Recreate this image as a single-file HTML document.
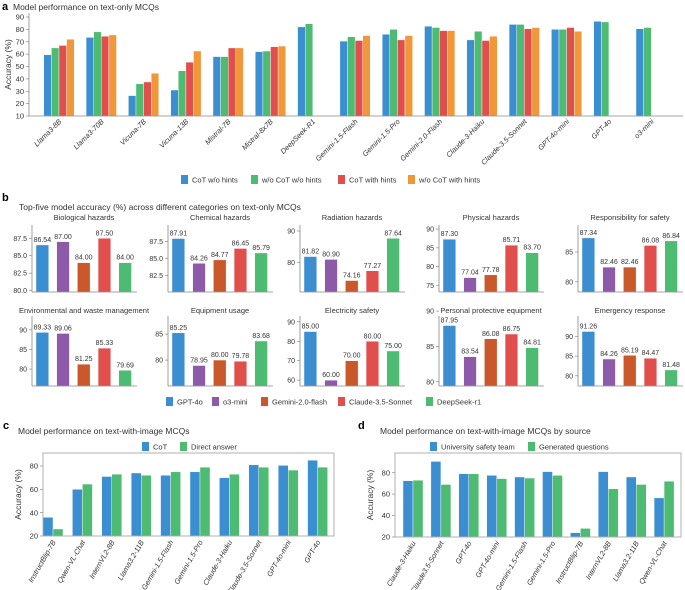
<!DOCTYPE html>
<html><head><meta charset="utf-8"><style>
body{margin:0;background:#fff;}
svg{display:block;font-family:"Liberation Sans",sans-serif;}
</style></head><body>
<svg id="fig" width="685" height="590" viewBox="0 0 685 590" xmlns="http://www.w3.org/2000/svg"></svg>
<script>
// ---------- Panel a data ----------
const aCategories = ["Llama3-8B","Llama3-70B","Vicuna-7B","Vicuna-13B","Mistral-7B","Mistral-8x7B","DeepSeek-R1","Gemini-1.5-Flash","Gemini-1.5-Pro","Gemini-2.0-Flash","Claude-3-Haiku","Claude-3.5-Sonnet","GPT-4o-mini","GPT-4o","o3-mini"];
const aCotNoHints = [59.5,73.5,26.5,31,58,62,82,70.5,76,82.5,71.5,84,80,86.5,80.5];
const aNoCotNoHints = [65,78,36,46.5,58,62.5,84.5,74,80,81.5,78.5,84,80,86,81.5];
const aCotHints = [67,74.5,37.5,53.5,65,66,null,71,71.5,79,71,80.5,81.5,null,null];
const aNoCotHints = [72,75.5,44.5,62.5,65,66.5,null,75,75,79,74.5,81.5,78.5,null,null];
const aSeriesNames = ["CoT w/o hints","w/o CoT w/o hints","CoT with hints","w/o CoT with hints"];
const aTicks = [10,20,30,40,50,60,70,80,90];

// ---------- Panel b data ----------
const bTitles = ["Biological hazards","Chemical hazards","Radiation hazards","Physical hazards","Responsibility for safety","Environmental and waste management","Equipment usage","Electricity safety","Personal protective equipment","Emergency response"];
const bGPT4o = [86.54,87.91,81.82,87.30,87.34,89.33,85.25,85.00,87.95,91.26];
const bO3mini = [87.00,84.26,80.90,77.04,82.46,89.06,78.95,60.00,83.54,84.26];
const bGemini2 = [84.00,84.77,74.16,77.78,82.46,81.25,80.00,70.00,86.08,85.19];
const bClaude35 = [87.50,86.45,77.27,85.71,86.08,85.33,79.78,80.00,86.75,84.47];
const bDeepSeek = [84.00,85.79,87.64,83.70,86.84,79.69,83.68,75.00,84.81,81.48];
const bModels = ["GPT-4o","o3-mini","Gemini-2.0-flash","Claude-3.5-Sonnet","DeepSeek-r1"];
const bYMin = [79.8,80.05,70.5,73.2,78.3,75.7,75.0,57,79.4,77.4];
const bYMax = [89.4,89.9,91.9,91.1,89.5,93.5,88.5,93,89.3,95.2];
const bTicks = [[80,82.5,85,87.5],[82.5,85,87.5],[80,90],[75,80,85,90],[80,85],[80,85,90],[80,85],[60,70,80,90],[80,85,90],[80,85,90]];

// ---------- Panel c data ----------
const cCategories = ["InstructBlip-7B","Qwen-VL-Chat","InternVL2-8B","Llama3.2-11B","Gemini-1.5-Flash","Gemini-1.5-Pro","Claude-3-Haiku","Claude-3.5-Sonnet","GPT-4o-mini","GPT-4o"];
const cCoT = [36,60,71,74,72,75,70,81,80.5,85];
const cDirect = [26,64.5,73,72,75,79,73,79,76.5,79];
const cTicks = [20,40,60,80];

// ---------- Panel d data ----------
const dCategories = ["Claude-3-Haiku","Claude3.5-Sonnet","GPT-4o","GPT-4o-mini","Gemini-1.5-Flash","Gemini-1.5-Pro","InstructBlip-7B","InternVL2-8B","Llama3.2-11B","Qwen-VL-Chat"];
const dUniversity = [72.5,90.5,79,77.5,76,81,24,81,76,56.5];
const dGenerated = [73,69,79,74.5,75,77.5,28,65,69,72];
const dTicks = [20,40,60,80];

const NS="http://www.w3.org/2000/svg";
const svg=document.getElementById('fig');
const C={blue:"#3b8fd0",green:"#4dbb72",red:"#e04f4b",orange:"#f0973a",purple:"#8c5aa8",dorange:"#c9582b",axis:"#888",text:"#333"};
function el(tag,attrs,parent){const e=document.createElementNS(NS,tag);for(const k in attrs)e.setAttribute(k,attrs[k]);(parent||svg).appendChild(e);return e;}
function txt(s,attrs,parent){const t=el('text',attrs,parent);t.textContent=s;return t;}
function lin(d0,d1,r0,r1){return v=>r0+(v-d0)*(r1-r0)/(d1-d0);}

// ===== Panel a =====
{
const g=el('g',{});


const l=txt('a',{x:2,y:10,'font-size':11,'font-weight':'bold',fill:'#000'},g);

const t=txt('Model performance on text-only MCQs',{x:13,y:10,'font-size':8.5,fill:C.text},g);

const L=29,R=683,T=13,B=116;
const y=lin(10,90,116,17);
const x=i=>59+42.3*i;
const bw=7.6;
const series=[aCotNoHints,aNoCotNoHints,aCotHints,aNoCotHints];
const cols=[C.blue,C.green,C.red,C.orange];
const yl=txt('Accuracy (%)',{x:0,y:0,'font-size':8.5,fill:C.text,'text-anchor':'middle',transform:`translate(11,${(T+B)/2}) rotate(-90)`},g);

aTicks.forEach(v=>{
  el('line',{x1:L-3,x2:L,y1:y(v),y2:y(v),stroke:C.axis,'stroke-width':0.7},g);
  const tk=txt(String(v),{x:L-5,y:y(v)+2.6,'font-size':7.5,fill:C.text,'text-anchor':'end'},g);
  
});
series.forEach((s,si)=>{
  s.forEach((v,i)=>{
    if(v==null)return;
    const r=el('rect',{x:x(i)+(si-2)*bw,y:y(v),width:bw,height:y(10)-y(v),fill:cols[si],stroke:'#fff','stroke-width':0.4},g);
    
    
  });
});
el('line',{x1:L,x2:L,y1:T,y2:B,stroke:C.axis,'stroke-width':0.8},g);
el('line',{x1:L,x2:R,y1:B,y2:B,stroke:C.axis,'stroke-width':0.8},g);
aCategories.forEach((c,i)=>{
  const tl=txt(c,{x:0,y:0,'font-size':7.3,fill:C.text,'text-anchor':'end','font-style':'italic',transform:`translate(${x(i)+3},${B+6}) rotate(-45)`},g);
  
});
const lx=[181,251,338,408];
aSeriesNames.forEach((n,i)=>{
  const sq=el('rect',{x:lx[i],y:175,width:7,height:9,fill:cols[i]},g);
  
  const lt=txt(n,{x:lx[i]+11,y:182.5,'font-size':7.5,fill:C.text},g);
  
});
}

// ===== Panel b =====
{
const g=el('g',{});


const l=txt('b',{x:2,y:201,'font-size':11,'font-weight':'bold',fill:'#000'},g);

const t=txt('Top-five model accuracy (%) across different categories on text-only MCQs',{x:19,y:210,'font-size':8.5,fill:C.text},g);

const axX=[32,168,300,439,578];
const rows=[{top:225,bot:292,title:220},{top:316,bot:386,title:313}];
const cols=[C.blue,C.purple,C.dorange,C.red,C.green];
const series=[bGPT4o,bO3mini,bGemini2,bClaude35,bDeepSeek];
bTitles.forEach((title,k)=>{
  const row=rows[Math.floor(k/5)], ax=axX[k%5];
  const sg=el('g',{},g);
  
  
  const y=lin(bYMin[k],bYMax[k],row.bot,row.top);
  const tt=txt(title,{x:ax+52,y:row.title,'font-size':7.5,fill:C.text,'text-anchor':'middle'},sg);
  
  bTicks[k].forEach(v=>{
    el('line',{x1:ax-3,x2:ax,y1:y(v),y2:y(v),stroke:C.axis,'stroke-width':0.7},sg);
    const tk=txt(v%1?v.toFixed(1):(bTicks[k].some(q=>q%1)?v.toFixed(1):String(v)),{x:ax-5,y:y(v)+2.5,'font-size':7,fill:C.text,'text-anchor':'end'},sg);
    
  });
  series.forEach((s,si)=>{
    const v=s[k], bx=ax+4+20.7*si;
    const r=el('rect',{x:bx,y:y(v),width:12.7,height:row.bot-y(v),fill:cols[si],stroke:'#fff','stroke-width':0.4},sg);
    
    
    const vl=txt(v.toFixed(2),{x:bx+6.35,y:y(v)-3,'font-size':7,fill:C.text,'text-anchor':'middle'},sg);
    
  });
  el('line',{x1:ax,x2:ax,y1:row.top,y2:row.bot,stroke:C.axis,'stroke-width':0.8},sg);
  el('line',{x1:ax,x2:ax+105,y1:row.bot,y2:row.bot,stroke:C.axis,'stroke-width':0.8},sg);
});
const lx=[166,212,261,338,426];
bModels.forEach((n,i)=>{
  const sq=el('rect',{x:lx[i],y:397,width:7,height:9,fill:cols[i]},g);
  
  const lt=txt(n,{x:lx[i]+11,y:404.5,'font-size':7.5,fill:C.text},g);
  
});
}

// ===== Panels c & d =====
function groupPanel(o){
  const g=el('g',{});
  
  
  const l=txt(o.letter,{x:o.lx,y:429,'font-size':11,'font-weight':'bold',fill:'#000'},g);
  
  const t=txt(o.title,{x:o.tx,y:434,'font-size':8.5,fill:C.text},g);
  
  const y=lin(20,80,o.B,o.y80);
  const top=453;
  const yl=txt('Accuracy (%)',{x:0,y:0,'font-size':8.5,fill:C.text,'text-anchor':'middle',transform:`translate(${o.L-22},${(top+o.B)/2}) rotate(-90)`},g);
  
  o.ticks.forEach(v=>{
    el('line',{x1:o.L-3,x2:o.L,y1:y(v),y2:y(v),stroke:C.axis,'stroke-width':0.7},g);
    const tk=txt(String(v),{x:o.L-5,y:y(v)+2.6,'font-size':7.5,fill:C.text,'text-anchor':'end'},g);
    
  });
  const x=i=>o.x0+o.dx*i;
  [o.s1,o.s2].forEach((s,si)=>{
    s.forEach((v,i)=>{
      const r=el('rect',{x:x(i)+(si-1)*o.bw,y:y(v),width:o.bw,height:o.B-y(v),fill:si?C.green:C.blue,stroke:'#fff','stroke-width':0.4},g);
      
      
    });
  });
  el('rect',{x:o.L,y:top,width:o.R-o.L,height:o.B-top,fill:'none',stroke:'#aaa','stroke-width':0.9},g);
  o.cats.forEach((c,i)=>{
    const tl=txt(c,{x:0,y:0,'font-size':7.3,fill:C.text,'text-anchor':'end','font-style':'italic',transform:`translate(${x(i)+3},${o.B+6}) rotate(-60)`},g);
    
  });
  o.legend.forEach((n,i)=>{
    const sq=el('rect',{x:o.legX[i],y:442,width:7,height:9,fill:i?C.green:C.blue},g);
    
    const lt=txt(n,{x:o.legX[i]+11,y:449.5,'font-size':7.5,fill:C.text},g);
    
  });
}
groupPanel({name:'panel-c',letter:'c',lx:3,title:'Model performance on text-with-image MCQs',tx:18,L:43,R:334,B:536,y80:466,x0:53,dx:29.4,bw:10,ticks:cTicks,cats:cCategories,s1:cCoT,s2:cDirect,legend:["CoT","Direct answer"],legX:[142,180]});
groupPanel({name:'panel-d',letter:'d',lx:358,title:'Model performance on text-with-image MCQs by source',tx:380,L:395,R:681,B:537,y80:472.7,x0:413,dx:27.9,bw:10,ticks:dTicks,cats:dCategories,s1:dUniversity,s2:dGenerated,legend:["University safety team","Generated questions"],legX:[430,528]});
</script>
</body></html>
